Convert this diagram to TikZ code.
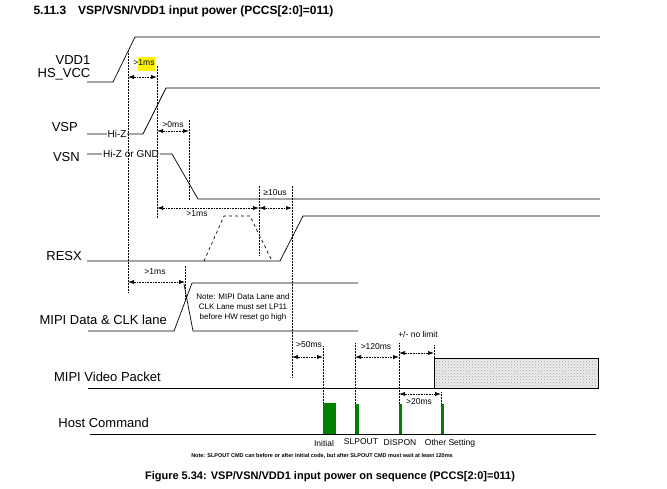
\documentclass[tikz,border=0pt]{standalone}
\usepackage{fontspec}
\setmainfont{Liberation Sans}
\usetikzlibrary{arrows.meta,patterns}
\begin{document}
\begin{tikzpicture}[x=1pt,y=-1pt,
  sig/.style={line width=0.7pt},
  guide/.style={densely dotted,line width=0.5pt},
  dim/.style={densely dotted,line width=0.6pt,{Latex[length=6,width=4]}-{Latex[length=6,width=4]}},
  lbl/.style={font=\fontsize{13}{13}\selectfont,anchor=east,inner sep=0},
  sm/.style={font=\fontsize{8.5}{8.5}\selectfont,inner sep=0.5},
  cmd/.style={fill=green!50!black,draw=none}]
\useasboundingbox (0,0) rectangle (667,489);
\node[anchor=west,font=\bfseries\fontsize{12}{12}\selectfont] at (30,11) {5.11.3\quad VSP/VSN/VDD1 input power (PCCS[2:0]=011)};
% VDD1
\node[lbl,align=right,anchor=center] at (64,68) {VDD1\\HS\_VCC};
\draw[sig] (87,82) -- (113,82) -- (135,37) -- (600,37);
% VSP
\node[lbl] at (78,127) {VSP};
\draw[sig] (87,134) -- (143,134) -- (166,88) -- (600,88);
\node[font=\fontsize{10}{10}\selectfont,fill=white,inner sep=1] at (117,134) {Hi-Z};
% VSN
\node[lbl] at (80,157) {VSN};
\draw[sig] (87,154) -- (172,154) -- (198,199) -- (600,199);
\node[font=\fontsize{10}{10}\selectfont,fill=white,inner sep=1] at (131,154) {Hi-Z or GND};
% RESX
\node[lbl] at (82,256) {RESX};
\draw[sig] (87,261) -- (280,261) -- (303,216) -- (600,216);
\draw[sig,dashed] (204,261) -- (224,216) -- (250,216) -- (272,261);
% MIPI lane
\node[lbl] at (167,320) {MIPI Data \& CLK lane};
\draw[sig] (88,331) -- (174,331) -- (192,283) -- (358,283);
\draw[sig] (184,284) -- (193,331) -- (358,331);
\node[sm,align=center,font=\fontsize{8}{10}\selectfont] at (243,307) {Note: MIPI Data Lane and\\CLK Lane must set LP11\\before HW reset go high};
% MIPI video
\node[lbl] at (161,377) {MIPI Video Packet};
\draw[sig] (88,388) -- (434,388);
\fill[gray!15] (434,388) rectangle (598,358);
\fill[pattern=crosshatch dots,pattern color=gray!70] (434,388) rectangle (598,358);
\draw[sig] (434,388) rectangle (598,358);
% Host command
\node[lbl] at (149,423) {Host Command};
\draw[sig] (90,434) -- (596,434);
\fill[cmd] (323,403) rectangle (336,434);
\fill[cmd] (355,404) rectangle (359,434);
\fill[cmd] (399,404) rectangle (401.5,434);
\fill[cmd] (441,404) rectangle (444,434);
\node[sm] at (324,443) {Initial};
\node[sm] at (361,442) {SLPOUT};
\node[sm] at (400,443) {DISPON};
\node[sm] at (450,443) {Other Setting};
\node[font=\bfseries\fontsize{5.5}{5.5}\selectfont] at (322,456) {Note: SLPOUT CMD can before or after Initial code, but after SLPOUT CMD must wait at least 120ms};
\node[font=\bfseries\fontsize{11}{11}\selectfont] at (330,477) {Figure 5.34: VSP/VSN/VDD1 input power on sequence (PCCS[2:0]=011)};
% guides
\draw[guide] (128,50) -- (128,292);
\draw[guide] (157,66) -- (157,218);
\draw[guide] (189,120) -- (189,200);
\draw[guide] (259,186) -- (259,256);
\draw[guide] (292,186) -- (292,378);
\draw[guide] (185,266) -- (185,300);
\draw[guide] (323,346) -- (323,403);
\draw[guide] (355,343) -- (355,404);
\draw[guide] (399,343) -- (399,404);
\draw[guide] (434,345) -- (434,388);
\draw[guide] (441,392) -- (441,404);
% dims
\draw[dim] (128,77) -- (157,77);
\node[sm] at (144,64) {>\colorbox{yellow}{\kern-3pt\strut 1ms\kern-3pt}};
\draw[dim] (157,131) -- (189,131);
\node[sm] at (173,125) {>0ms};
\draw[dim] (157,208) -- (259,208);
\node[sm] at (197,214) {>1ms};
\draw[dim] (259,208) -- (292,208);
\node[sm] at (275,193) {≥10us};
\draw[dim] (128,282) -- (185,282);
\node[sm] at (155,272) {>1ms};
\draw[dim] (292,357) -- (323,357);
\node[sm] at (309,345) {>50ms};
\draw[dim] (355,357) -- (399,357);
\node[sm] at (376,347) {>120ms};
\draw[dim] (399,353) -- (434,353);
\node[sm] at (418,334) {+/- no limit};
\draw[dim] (399,394) -- (441,394);
\node[sm] at (419,402) {>20ms};
\end{tikzpicture}
\end{document}
